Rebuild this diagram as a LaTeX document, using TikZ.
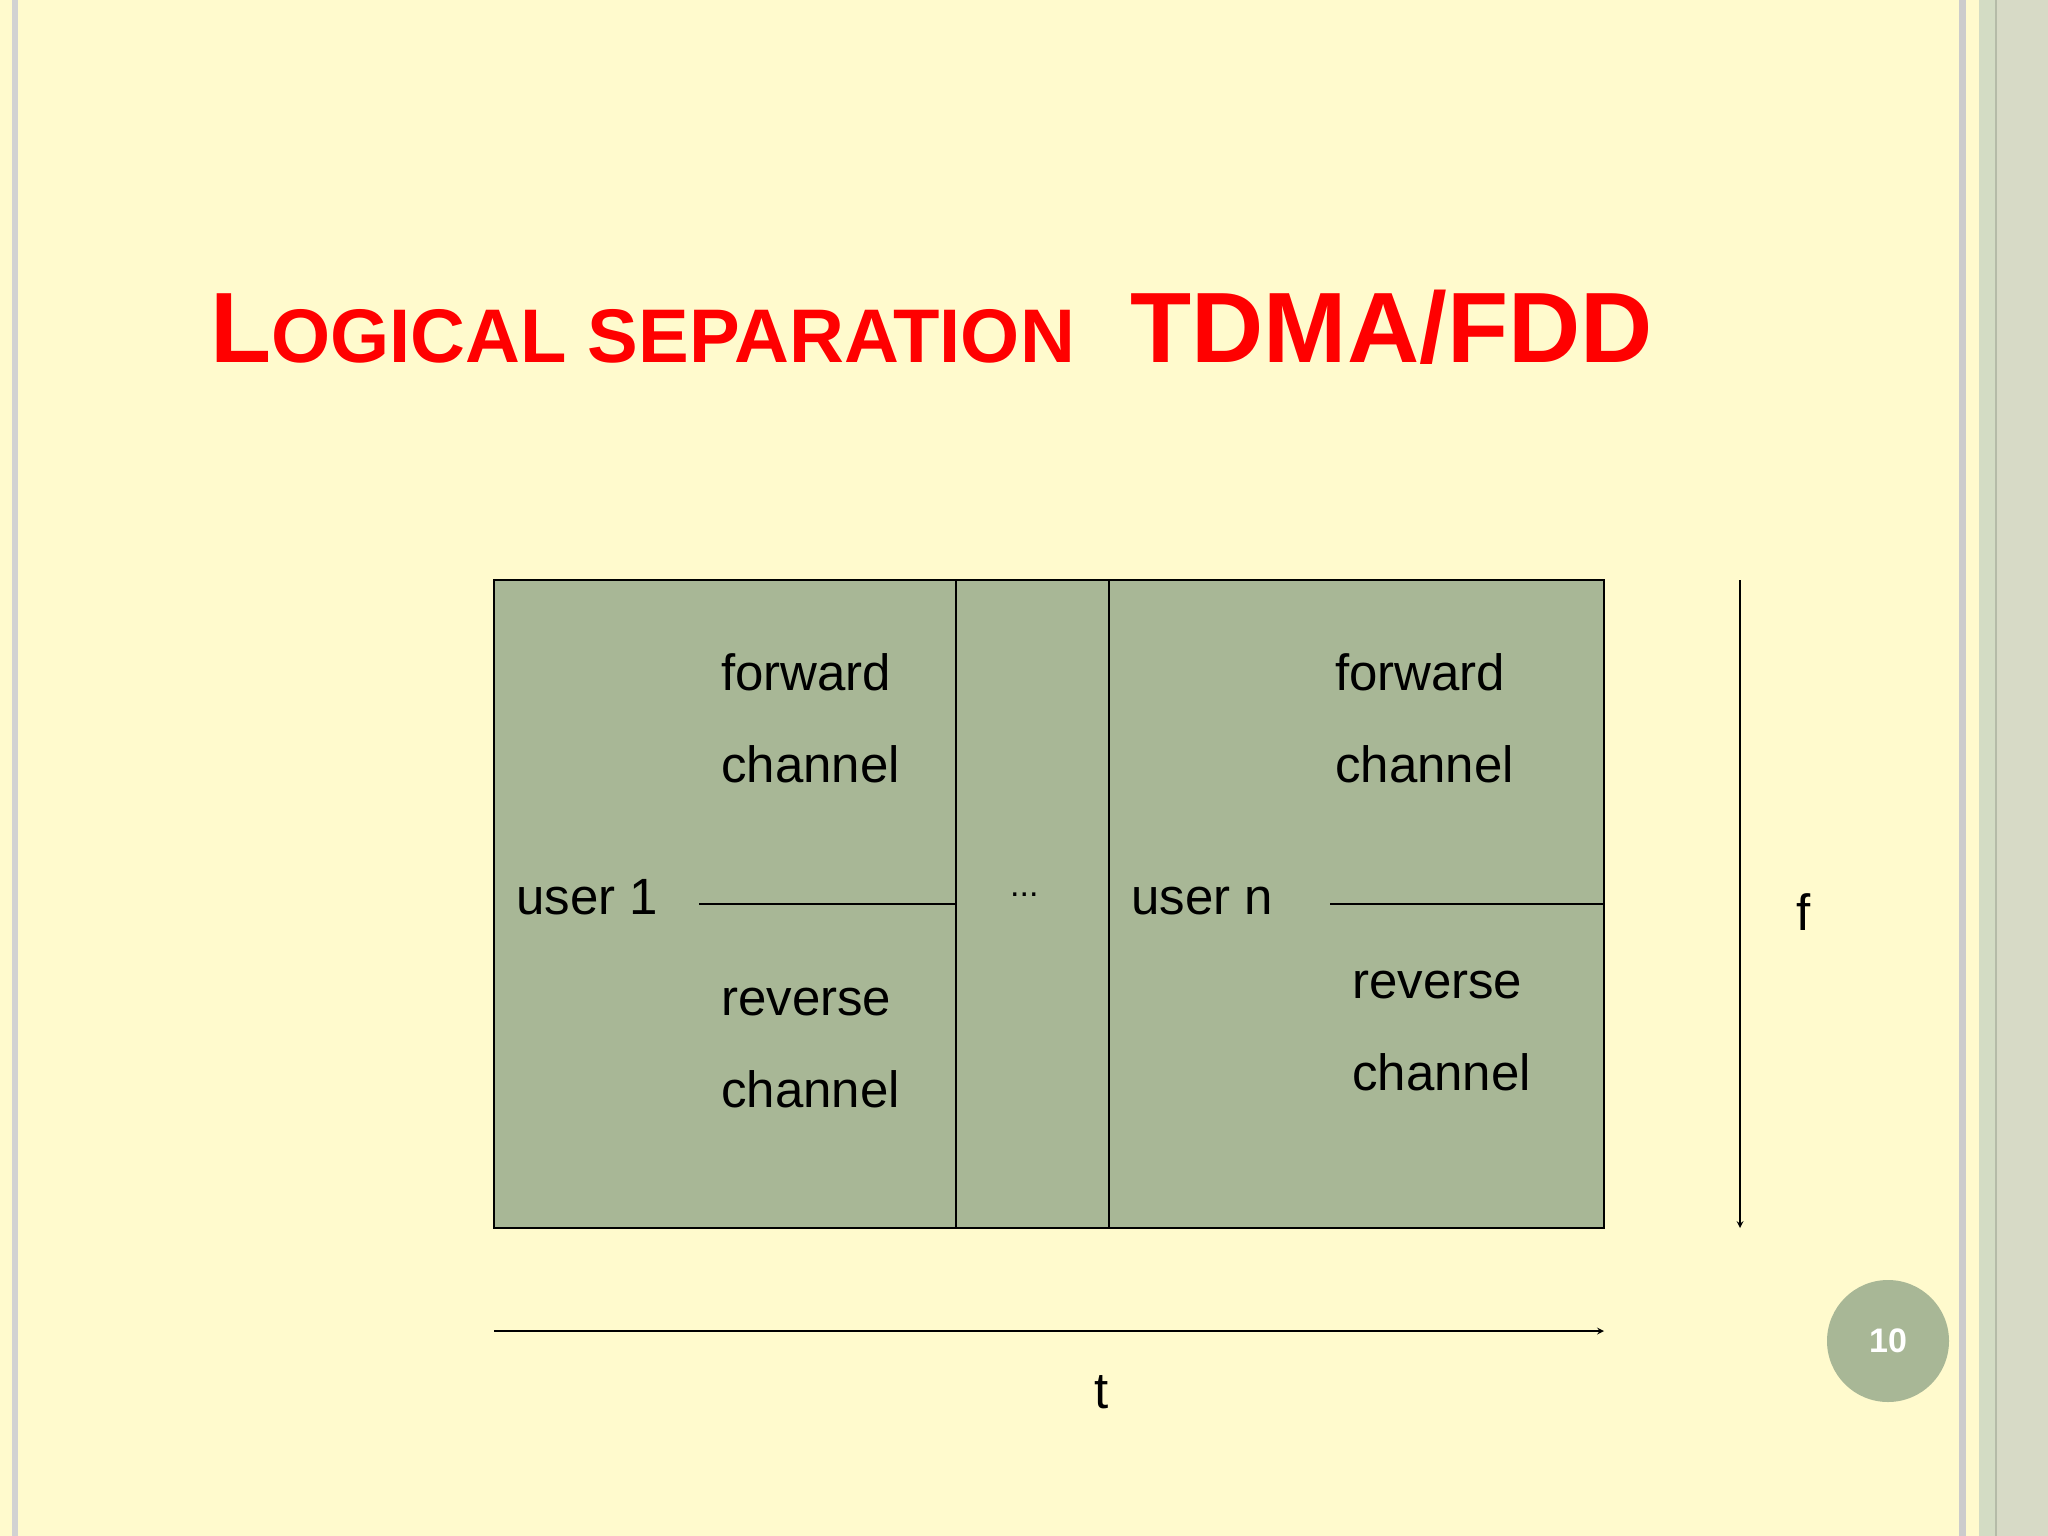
\documentclass[tikz,border=0pt]{standalone}
\usepackage{fontspec}
\setmainfont{Liberation Sans}
\definecolor{bg}{HTML}{FFFACD}
\definecolor{boxg}{HTML}{A8B796}
\definecolor{ttl}{HTML}{FF0000}
\definecolor{st1}{HTML}{D3DCC4}
\definecolor{st2}{HTML}{D7DAC6}
\definecolor{st3}{HTML}{B5BBA8}
\begin{document}
\begin{tikzpicture}[x=1pt,y=-1pt,
  lbl/.style={font=\fontsize{51}{51}\selectfont,anchor=base west,inner sep=0pt},
  ln/.style={line width=2.2pt,black}]
\useasboundingbox (0,0) rectangle (2048,1536);
\fill[bg] (0,0) rectangle (2048,1536);
\fill[gray!35] (12,0) rectangle (18,1536);
\fill[gray!40] (1959,0) rectangle (1966,1536);
\fill[st1] (1979,0) rectangle (1996,1536);
\fill[st2] (1996,0) rectangle (2048,1536);
\draw[st3,line width=1.5pt] (1996,0) -- (1996,1536);
% title
\node[anchor=base west,inner sep=0pt,text=ttl,font=\bfseries] (title) at (210,362)
 {\fontsize{100}{100}\selectfont L\fontsize{76}{76}\selectfont OGICAL SEPARATION\fontsize{100}{100}\selectfont\ \ TDMA/FDD};
% box
\draw[ln,fill=boxg] (494,580) rectangle (1604,1228);
\coordinate (d1t) at (956,580); \coordinate (d1b) at (956,1228);
\coordinate (d2t) at (1109,580); \coordinate (d2b) at (1109,1228);
\draw[ln] (d1t) -- (d1b);
\draw[ln] (d2t) -- (d2b);
\coordinate (h1a) at (699,904); \coordinate (h1b) at (956,904);
\coordinate (h2a) at (1330,904); \coordinate (h2b) at (1604,904);
\draw[ln] (h1a) -- (h1b);
\draw[ln] (h2a) -- (h2b);
\node[lbl] (f1) at (721,690) {forward};
\node[lbl] (c1) at (721,782) {channel};
\node[lbl] (r1) at (721,1015) {reverse};
\node[lbl] (c2) at (721,1107) {channel};
\node[lbl] (u1) at (516,914) {user 1};
\node[lbl] (dots) at (1010,896) {\fontsize{34}{34}\selectfont ...};
\node[lbl] (un) at (1131,914) {user n};
\node[lbl] (f2) at (1335,690) {forward};
\node[lbl] (c3) at (1335,782) {channel};
\node[lbl] (r2) at (1352,998) {reverse};
\node[lbl] (c4) at (1352,1090) {channel};
% axes
\coordinate (fa) at (1740,580); \coordinate (fb) at (1740,1228);
\draw[line width=2pt,-stealth] (fa) -- (fb);
\node[lbl] (fl) at (1796,930) {f};
\coordinate (ta) at (494,1331); \coordinate (tb) at (1604,1331);
\draw[line width=2pt,-stealth] (ta) -- (tb);
\node[lbl] (tl) at (1094,1408) {t};
% page number
\node[circle,fill=boxg,minimum size=122pt,inner sep=0pt,text=white,font=\bfseries\fontsize{34}{34}\selectfont] (pg) at (1888,1341) {10};
\end{tikzpicture}
\end{document}
